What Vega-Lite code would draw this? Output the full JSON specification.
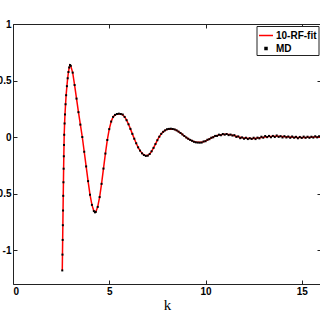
{
  "$schema": "https://vega.github.io/schema/vega-lite/v6.json",
  "width": 308,
  "height": 260,
  "autosize": {"type": "none"},
  "padding": {"left": 13, "top": 24, "right": 0, "bottom": 36},
  "background": "white",
  "config": {
    "view": {"stroke": "#222", "strokeWidth": 1},
    "axis": {
      "labelFont": "Liberation Sans",
      "labelFontWeight": "bold",
      "labelFontSize": 10,
      "labelColor": "#000",
      "tickColor": "#222",
      "tickSize": -4,
      "labelPadding": 6,
      "domain": false,
      "grid": false
    }
  },
  "data": {"values": [
    {"k": 2.56, "fit": -1.18, "md": -1.18},
    {"k": 2.57, "fit": -1.04, "md": -1.04},
    {"k": 2.58, "fit": -0.91, "md": -0.91},
    {"k": 2.59, "fit": -0.78, "md": -0.78},
    {"k": 2.60, "fit": -0.65, "md": -0.65},
    {"k": 2.61, "fit": -0.52, "md": -0.52},
    {"k": 2.62, "fit": -0.40, "md": -0.40},
    {"k": 2.63, "fit": -0.28, "md": -0.28},
    {"k": 2.64, "fit": -0.17, "md": -0.17},
    {"k": 2.65, "fit": -0.07, "md": -0.07},
    {"k": 2.66, "fit": 0.02, "md": 0.02},
    {"k": 2.68, "fit": 0.12, "md": 0.12},
    {"k": 2.70, "fit": 0.20, "md": 0.20},
    {"k": 2.73, "fit": 0.29, "md": 0.29},
    {"k": 2.76, "fit": 0.37, "md": 0.37},
    {"k": 2.80, "fit": 0.45, "md": 0.45},
    {"k": 2.84, "fit": 0.52, "md": 0.52},
    {"k": 2.88, "fit": 0.575, "md": 0.575},
    {"k": 2.92, "fit": 0.615, "md": 0.615},
    {"k": 2.96, "fit": 0.637, "md": 0.637},
    {"k": 3.0, "fit": 0.63, "md": 0.63},
    {"k": 3.1, "fit": 0.57, "md": 0.57},
    {"k": 3.2, "fit": 0.46, "md": 0.46},
    {"k": 3.3, "fit": 0.34, "md": 0.34},
    {"k": 3.4, "fit": 0.22, "md": 0.22},
    {"k": 3.5, "fit": 0.11, "md": 0.11},
    {"k": 3.6, "fit": 0.0, "md": 0.0},
    {"k": 3.7, "fit": -0.13, "md": -0.13},
    {"k": 3.8, "fit": -0.26, "md": -0.26},
    {"k": 3.9, "fit": -0.39, "md": -0.39},
    {"k": 4.0, "fit": -0.51, "md": -0.51},
    {"k": 4.1, "fit": -0.60, "md": -0.60},
    {"k": 4.2, "fit": -0.655, "md": -0.655},
    {"k": 4.26, "fit": -0.666, "md": -0.666},
    {"k": 4.3, "fit": -0.662, "md": -0.662},
    {"k": 4.4, "fit": -0.618, "md": -0.618},
    {"k": 4.5, "fit": -0.531, "md": -0.531},
    {"k": 4.6, "fit": -0.414, "md": -0.414},
    {"k": 4.7, "fit": -0.279, "md": -0.279},
    {"k": 4.8, "fit": -0.146, "md": -0.146},
    {"k": 4.9, "fit": -0.026, "md": -0.026},
    {"k": 5.0, "fit": 0.070, "md": 0.070},
    {"k": 5.1, "fit": 0.137, "md": 0.137},
    {"k": 5.2, "fit": 0.178, "md": 0.178},
    {"k": 5.3, "fit": 0.196, "md": 0.196},
    {"k": 5.4, "fit": 0.202, "md": 0.204},
    {"k": 5.5, "fit": 0.204, "md": 0.207},
    {"k": 5.6, "fit": 0.204, "md": 0.204},
    {"k": 5.7, "fit": 0.197, "md": 0.199},
    {"k": 5.8, "fit": 0.178, "md": 0.178},
    {"k": 5.9, "fit": 0.149, "md": 0.149},
    {"k": 6.0, "fit": 0.113, "md": 0.113},
    {"k": 6.1, "fit": 0.072, "md": 0.072},
    {"k": 6.2, "fit": 0.028, "md": 0.028},
    {"k": 6.3, "fit": -0.015, "md": -0.015},
    {"k": 6.4, "fit": -0.055, "md": -0.055},
    {"k": 6.5, "fit": -0.091, "md": -0.091},
    {"k": 6.6, "fit": -0.120, "md": -0.120},
    {"k": 6.7, "fit": -0.142, "md": -0.144},
    {"k": 6.8, "fit": -0.157, "md": -0.159},
    {"k": 6.9, "fit": -0.164, "md": -0.167},
    {"k": 7.0, "fit": -0.163, "md": -0.165},
    {"k": 7.1, "fit": -0.150, "md": -0.150},
    {"k": 7.2, "fit": -0.126, "md": -0.126},
    {"k": 7.3, "fit": -0.096, "md": -0.096},
    {"k": 7.4, "fit": -0.062, "md": -0.062},
    {"k": 7.5, "fit": -0.028, "md": -0.028},
    {"k": 7.6, "fit": 0.003, "md": 0.003},
    {"k": 7.7, "fit": 0.028, "md": 0.028},
    {"k": 7.8, "fit": 0.046, "md": 0.046},
    {"k": 7.9, "fit": 0.059, "md": 0.059},
    {"k": 8.0, "fit": 0.066, "md": 0.068},
    {"k": 8.1, "fit": 0.070, "md": 0.072},
    {"k": 8.2, "fit": 0.071, "md": 0.074},
    {"k": 8.3, "fit": 0.070, "md": 0.071},
    {"k": 8.4, "fit": 0.066, "md": 0.067},
    {"k": 8.5, "fit": 0.059, "md": 0.059},
    {"k": 8.6, "fit": 0.048, "md": 0.048},
    {"k": 8.7, "fit": 0.036, "md": 0.036},
    {"k": 8.8, "fit": 0.023, "md": 0.023},
    {"k": 8.9, "fit": 0.009, "md": 0.009},
    {"k": 9.0, "fit": -0.004, "md": -0.004},
    {"k": 9.1, "fit": -0.015, "md": -0.015},
    {"k": 9.2, "fit": -0.025, "md": -0.025},
    {"k": 9.3, "fit": -0.033, "md": -0.033},
    {"k": 9.4, "fit": -0.040, "md": -0.042},
    {"k": 9.5, "fit": -0.044, "md": -0.047},
    {"k": 9.6, "fit": -0.046, "md": -0.049},
    {"k": 9.7, "fit": -0.047, "md": -0.050},
    {"k": 9.8, "fit": -0.046, "md": -0.049},
    {"k": 9.9, "fit": -0.041, "md": -0.039},
    {"k": 10.0, "fit": -0.035, "md": -0.037},
    {"k": 10.1, "fit": -0.026, "md": -0.024},
    {"k": 10.2, "fit": -0.017, "md": -0.019},
    {"k": 10.3, "fit": -0.008, "md": -0.006},
    {"k": 10.4, "fit": 0.000, "md": -0.002},
    {"k": 10.5, "fit": 0.008, "md": 0.010},
    {"k": 10.6, "fit": 0.014, "md": 0.010},
    {"k": 10.7, "fit": 0.018, "md": 0.021},
    {"k": 10.8, "fit": 0.021, "md": 0.016},
    {"k": 10.9, "fit": 0.023, "md": 0.027},
    {"k": 11.0, "fit": 0.024, "md": 0.021},
    {"k": 11.1, "fit": 0.024, "md": 0.027},
    {"k": 11.2, "fit": 0.023, "md": 0.017},
    {"k": 11.3, "fit": 0.020, "md": 0.022},
    {"k": 11.4, "fit": 0.017, "md": 0.013},
    {"k": 11.5, "fit": 0.012, "md": 0.017},
    {"k": 11.6, "fit": 0.007, "md": 0.001},
    {"k": 11.7, "fit": 0.002, "md": 0.006},
    {"k": 11.8, "fit": -0.002, "md": -0.010},
    {"k": 11.9, "fit": -0.006, "md": -0.003},
    {"k": 12.0, "fit": -0.008, "md": -0.014},
    {"k": 12.1, "fit": -0.010, "md": -0.006},
    {"k": 12.2, "fit": -0.011, "md": -0.018},
    {"k": 12.3, "fit": -0.012, "md": -0.010},
    {"k": 12.4, "fit": -0.012, "md": -0.017},
    {"k": 12.5, "fit": -0.012, "md": -0.006},
    {"k": 12.6, "fit": -0.010, "md": -0.018},
    {"k": 12.7, "fit": -0.008, "md": -0.005},
    {"k": 12.8, "fit": -0.006, "md": -0.012},
    {"k": 12.9, "fit": -0.004, "md": 0.003},
    {"k": 13.0, "fit": -0.001, "md": -0.006},
    {"k": 13.1, "fit": 0.001, "md": 0.009},
    {"k": 13.2, "fit": 0.003, "md": -0.001},
    {"k": 13.3, "fit": 0.004, "md": 0.010},
    {"k": 13.4, "fit": 0.005, "md": -0.002},
    {"k": 13.5, "fit": 0.006, "md": 0.010},
    {"k": 13.6, "fit": 0.006, "md": 0.000},
    {"k": 13.7, "fit": 0.006, "md": 0.014},
    {"k": 13.8, "fit": 0.006, "md": 0.001},
    {"k": 13.9, "fit": 0.005, "md": 0.008},
    {"k": 14.0, "fit": 0.004, "md": -0.004},
    {"k": 14.1, "fit": 0.003, "md": 0.008},
    {"k": 14.2, "fit": 0.002, "md": -0.004},
    {"k": 14.3, "fit": 0.001, "md": 0.005},
    {"k": 14.4, "fit": 0.000, "md": -0.007},
    {"k": 14.5, "fit": -0.001, "md": 0.005},
    {"k": 14.6, "fit": -0.002, "md": -0.006},
    {"k": 14.7, "fit": -0.003, "md": 0.002},
    {"k": 14.8, "fit": -0.003, "md": -0.011},
    {"k": 14.9, "fit": -0.003, "md": 0.001},
    {"k": 15.0, "fit": -0.003, "md": -0.008},
    {"k": 15.1, "fit": -0.003, "md": 0.004},
    {"k": 15.2, "fit": -0.003, "md": -0.007},
    {"k": 15.3, "fit": -0.002, "md": 0.003},
    {"k": 15.4, "fit": -0.001, "md": -0.007},
    {"k": 15.5, "fit": -0.001, "md": 0.003},
    {"k": 15.6, "fit": 0.000, "md": -0.005},
    {"k": 15.7, "fit": 0.001, "md": 0.007},
    {"k": 15.8, "fit": 0.001, "md": -0.003},
    {"k": 15.9, "fit": 0.001, "md": 0.006},
    {"k": 16.0, "fit": 0.002, "md": -0.002}
  ]},
  "layer": [
    {
      "mark": {"type": "line", "strokeWidth": 1.5, "clip": true},
      "encoding": {
        "x": {"field": "k", "type": "quantitative", "scale": {"domain": [0, 16], "nice": false},
              "axis": {"orient": "bottom", "values": [0, 5, 10, 15], "title": "k",
                       "titleFont": "Liberation Serif", "titleFontWeight": "normal", "titleFontSize": 15,
                       "titleColor": "#000", "titlePadding": 1}},
        "y": {"field": "fit", "type": "quantitative", "scale": {"domain": [-1.3, 1], "nice": false},
              "axis": {"orient": "left", "values": [-1, -0.5, 0, 0.5, 1], "title": null, "format": "~g",
                       "labelExpr": "replace(datum.label, '\u2212', '-')"}},
        "color": {"datum": "10-RF-fit", "type": "nominal",
                  "scale": {"domain": ["10-RF-fit", "MD"], "range": ["#ff0000", "#000000"]},
                  "legend": {"orient": "none", "legendX": 243.5, "legendY": 2, "title": null,
                             "strokeColor": "#222", "fillColor": "white", "padding": 1.5,
                             "labelFont": "Liberation Sans", "labelFontWeight": "bold", "labelFontSize": 10,
                             "labelColor": "#000", "symbolSize": 196, "rowPadding": 0, "labelOffset": 2,
                             "cornerRadius": 0,
                             "encode": {"symbols": {"update": {
                               "shape": {"signal": "datum.value === 'MD' ? 'square' : 'stroke'"},
                               "size": {"signal": "datum.value === 'MD' ? 4 : 196"},
                               "stroke": {"signal": "datum.value === 'MD' ? 'transparent' : '#ff0000'"},
                               "fill": {"signal": "datum.value === 'MD' ? '#000000' : 'transparent'"},
                               "strokeWidth": {"value": 1.5},
                               "opacity": {"value": 1}
                             }}}}}
      }
    },
    {
      "mark": {"type": "point", "filled": true, "size": 4, "opacity": 1, "shape": "square", "clip": true},
      "encoding": {
        "x": {"field": "k", "type": "quantitative", "scale": {"domain": [0, 16], "nice": false},
              "axis": {"orient": "top", "values": [0, 5, 10, 15], "labels": false, "title": null}},
        "y": {"field": "md", "type": "quantitative", "scale": {"domain": [-1.3, 1], "nice": false},
              "axis": {"orient": "right", "values": [-1, -0.5, 0, 0.5, 1], "labels": false, "title": null}},
        "color": {"datum": "MD", "type": "nominal"}
      }
    }
  ],
  "resolve": {"axis": {"x": "independent", "y": "independent"}}
}
